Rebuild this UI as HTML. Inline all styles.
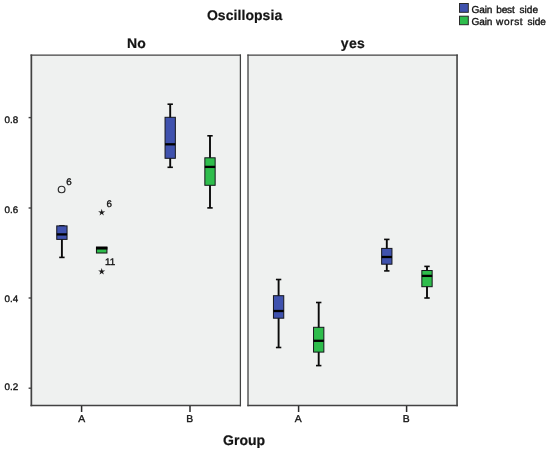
<!DOCTYPE html>
<html><head><meta charset="utf-8"><title>Oscillopsia</title>
<style>
html,body{margin:0;padding:0;background:#fff;}
body{width:550px;height:452px;overflow:hidden;}
svg{display:block;}
text{font-family:"Liberation Sans",Arial,sans-serif;fill:#141414;}
.b{font-weight:bold;font-size:14px;stroke:#141414;stroke-width:0.2px;text-rendering:geometricPrecision;}
.s{stroke:#141414;stroke-width:0.35px;text-rendering:geometricPrecision;}
</style></head><body>
<svg width="550" height="452" viewBox="0 0 550 452">
<rect width="550" height="452" fill="#ffffff"/>

<rect x="31.35" y="55.2" width="209.05" height="350.30" fill="#eff1f0"/>
<line x1="30.50" x2="241.03" y1="55.2" y2="55.2" stroke="#424242" stroke-width="1.2"/>
<line x1="30.50" x2="241.03" y1="405.5" y2="405.5" stroke="#424242" stroke-width="1.7"/>
<line x1="31.35" x2="31.35" y1="54.60" y2="406.35" stroke="#424242" stroke-width="1.7"/>
<line x1="240.4" x2="240.4" y1="54.60" y2="406.35" stroke="#424242" stroke-width="1.25"/>
<rect x="248.0" y="55.2" width="209.05" height="350.30" fill="#eff1f0"/>
<line x1="247.35" x2="457.85" y1="55.2" y2="55.2" stroke="#424242" stroke-width="1.2"/>
<line x1="247.35" x2="457.85" y1="405.5" y2="405.5" stroke="#424242" stroke-width="1.7"/>
<line x1="248.0" x2="248.0" y1="54.60" y2="406.35" stroke="#424242" stroke-width="1.3"/>
<line x1="457.05" x2="457.05" y1="54.60" y2="406.35" stroke="#424242" stroke-width="1.6"/>
<text class="b" x="244.6" y="20.4" letter-spacing="0.06" text-anchor="middle">Oscillopsia</text>
<text class="b" x="136.4" y="48" text-anchor="middle">No</text>
<text class="b" x="352.9" y="47.9" letter-spacing="0.25" text-anchor="middle">yes</text>
<text class="b" x="244.1" y="444.6" text-anchor="middle">Group</text>
<line x1="28.6" x2="31" y1="117.6" y2="117.6" stroke="#424242" stroke-width="1.4"/>
<text class="s" transform="translate(4.5,123.3) scale(1.03,1)" font-size="9.5" text-anchor="start">0.8</text>
<line x1="28.6" x2="31" y1="208" y2="208" stroke="#424242" stroke-width="1.4"/>
<text class="s" transform="translate(4.5,213.0) scale(1.03,1)" font-size="9.5" text-anchor="start">0.6</text>
<line x1="28.6" x2="31" y1="298" y2="298" stroke="#424242" stroke-width="1.4"/>
<text class="s" transform="translate(4.5,302.0) scale(1.03,1)" font-size="9.5" text-anchor="start">0.4</text>
<line x1="28.6" x2="31" y1="388.2" y2="388.2" stroke="#424242" stroke-width="1.4"/>
<text class="s" transform="translate(4.5,390.0) scale(1.03,1)" font-size="9.5" text-anchor="start">0.2</text>
<line x1="81.6" x2="81.6" y1="406" y2="412" stroke="#2c2c2c" stroke-width="1.5"/>
<text class="s" transform="translate(81.8,422.0) scale(1.05,1)" font-size="9.9" text-anchor="middle">A</text>
<line x1="190" x2="190" y1="406" y2="412" stroke="#2c2c2c" stroke-width="1.5"/>
<text class="s" transform="translate(189.7,422.0) scale(1.05,1)" font-size="9.9" text-anchor="middle">B</text>
<line x1="298.6" x2="298.6" y1="406" y2="412" stroke="#2c2c2c" stroke-width="1.5"/>
<text class="s" transform="translate(298.2,422.0) scale(1.05,1)" font-size="9.9" text-anchor="middle">A</text>
<line x1="406.6" x2="406.6" y1="406" y2="412" stroke="#2c2c2c" stroke-width="1.5"/>
<text class="s" transform="translate(406.1,422.0) scale(1.05,1)" font-size="9.9" text-anchor="middle">B</text>
<rect x="459.5" y="3.5" width="8.8" height="8.8" fill="#3f52ae" stroke="#2a2a2a" stroke-width="1"/>
<rect x="459.5" y="16.2" width="8.8" height="8.5" fill="#2ebd4c" stroke="#2a2a2a" stroke-width="1"/>
<text class="s" font-size="10.1" y="12.7"><tspan x="471.6" letter-spacing="-0.15">Gain</tspan> <tspan x="496.3" letter-spacing="-0.2">best</tspan> <tspan x="519.5">side</tspan></text>
<text class="s" font-size="10.1" y="24.8"><tspan x="471.6" letter-spacing="-0.15">Gain</tspan> <tspan x="496.1" letter-spacing="0.6">worst</tspan> <tspan x="527.4">side</tspan></text>
<line x1="61.9" x2="61.9" y1="225.9" y2="257.4" stroke="#0a0a0a" stroke-width="1.9"/>
<line x1="59.199999999999996" x2="64.6" y1="225.9" y2="225.9" stroke="#0a0a0a" stroke-width="1.6"/>
<line x1="59.199999999999996" x2="64.6" y1="257.4" y2="257.4" stroke="#0a0a0a" stroke-width="1.6"/>
<rect x="56.75" y="225.9" width="10.3" height="13.5" fill="#3f52ae" stroke="#14161c" stroke-width="1"/>
<line x1="56.75" x2="67.05" y1="234.4" y2="234.4" stroke="#000" stroke-width="2.3"/>
<rect x="96.5" y="247.3" width="10.4" height="5.7" fill="#2ebd4c" stroke="#1c1c1c" stroke-width="1.1"/>
<line x1="96" x2="107.4" y1="248.1" y2="248.1" stroke="#000" stroke-width="2.9"/>
<line x1="170.2" x2="170.2" y1="104.2" y2="167.3" stroke="#0a0a0a" stroke-width="1.9"/>
<line x1="167.5" x2="172.89999999999998" y1="104.2" y2="104.2" stroke="#0a0a0a" stroke-width="1.6"/>
<line x1="167.5" x2="172.89999999999998" y1="167.3" y2="167.3" stroke="#0a0a0a" stroke-width="1.6"/>
<rect x="165.04999999999998" y="117.3" width="10.3" height="41.0" fill="#3f52ae" stroke="#14161c" stroke-width="1"/>
<line x1="165.04999999999998" x2="175.35" y1="144.3" y2="144.3" stroke="#000" stroke-width="2.3"/>
<line x1="210" x2="210" y1="135.8" y2="207.9" stroke="#0a0a0a" stroke-width="1.9"/>
<line x1="207.3" x2="212.7" y1="135.8" y2="135.8" stroke="#0a0a0a" stroke-width="1.6"/>
<line x1="207.3" x2="212.7" y1="207.9" y2="207.9" stroke="#0a0a0a" stroke-width="1.6"/>
<rect x="204.85" y="157.8" width="10.3" height="27.5" fill="#2ebd4c" stroke="#14161c" stroke-width="1"/>
<line x1="204.85" x2="215.15" y1="166.9" y2="166.9" stroke="#000" stroke-width="2.3"/>
<line x1="278.6" x2="278.6" y1="279.5" y2="347.5" stroke="#0a0a0a" stroke-width="1.9"/>
<line x1="275.90000000000003" x2="281.3" y1="279.5" y2="279.5" stroke="#0a0a0a" stroke-width="1.6"/>
<line x1="275.90000000000003" x2="281.3" y1="347.5" y2="347.5" stroke="#0a0a0a" stroke-width="1.6"/>
<rect x="273.45000000000005" y="295.7" width="10.3" height="22.5" fill="#3f52ae" stroke="#14161c" stroke-width="1"/>
<line x1="273.45000000000005" x2="283.75" y1="311.0" y2="311.0" stroke="#000" stroke-width="2.3"/>
<line x1="318.7" x2="318.7" y1="302.5" y2="365.6" stroke="#0a0a0a" stroke-width="1.9"/>
<line x1="316.0" x2="321.4" y1="302.5" y2="302.5" stroke="#0a0a0a" stroke-width="1.6"/>
<line x1="316.0" x2="321.4" y1="365.6" y2="365.6" stroke="#0a0a0a" stroke-width="1.6"/>
<rect x="313.55" y="327.3" width="10.3" height="24.8" fill="#2ebd4c" stroke="#14161c" stroke-width="1"/>
<line x1="313.55" x2="323.84999999999997" y1="340.8" y2="340.8" stroke="#000" stroke-width="2.3"/>
<line x1="386.8" x2="386.8" y1="239.4" y2="270.9" stroke="#0a0a0a" stroke-width="1.9"/>
<line x1="384.1" x2="389.5" y1="239.4" y2="239.4" stroke="#0a0a0a" stroke-width="1.6"/>
<line x1="384.1" x2="389.5" y1="270.9" y2="270.9" stroke="#0a0a0a" stroke-width="1.6"/>
<rect x="381.65000000000003" y="248.4" width="10.3" height="15.8" fill="#3f52ae" stroke="#14161c" stroke-width="1"/>
<line x1="381.65000000000003" x2="391.95" y1="257.0" y2="257.0" stroke="#000" stroke-width="2.3"/>
<line x1="427" x2="427" y1="266.4" y2="298.0" stroke="#0a0a0a" stroke-width="1.9"/>
<line x1="424.3" x2="429.7" y1="266.4" y2="266.4" stroke="#0a0a0a" stroke-width="1.6"/>
<line x1="424.3" x2="429.7" y1="298.0" y2="298.0" stroke="#0a0a0a" stroke-width="1.6"/>
<rect x="421.85" y="270.5" width="10.3" height="16.2" fill="#2ebd4c" stroke="#14161c" stroke-width="1"/>
<line x1="421.85" x2="432.15" y1="275.9" y2="275.9" stroke="#000" stroke-width="2.3"/>
<ellipse cx="61.6" cy="189.5" rx="3.35" ry="3.25" fill="none" stroke="#2a2a2a" stroke-width="1.2"/>
<text class="s" transform="translate(66.2,185.1) scale(1.03,1)" font-size="9.5" text-anchor="start">6</text>
<polygon points="101.70,208.80 102.49,211.41 105.22,211.36 102.98,212.92 103.87,215.49 101.70,213.85 99.53,215.49 100.42,212.92 98.18,211.36 100.91,211.41" fill="#1a1a1a"/>
<text class="s" transform="translate(106.5,207.4) scale(1.03,1)" font-size="9.5" text-anchor="start">6</text>
<polygon points="101.70,267.90 102.49,270.51 105.22,270.46 102.98,272.02 103.87,274.59 101.70,272.95 99.53,274.59 100.42,272.02 98.18,270.46 100.91,270.51" fill="#1a1a1a"/>
<text class="s" transform="translate(105,265.3) scale(1.03,1)" font-size="9.5" text-anchor="start">11</text>
</svg></body></html>
